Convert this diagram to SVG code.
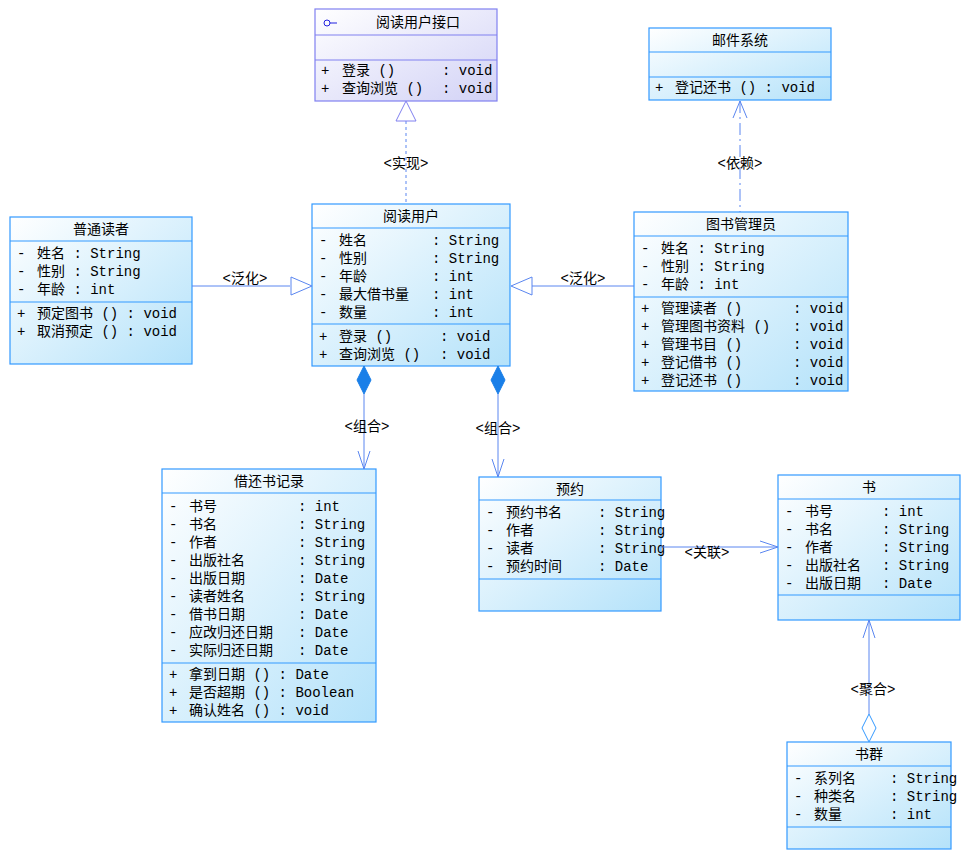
<svg xmlns="http://www.w3.org/2000/svg" width="972" height="861" viewBox="0 0 972 861">
<defs>
<linearGradient id="gb" x1="0" y1="0" x2="1" y2="1"><stop offset="0" stop-color="#ffffff"/><stop offset="1" stop-color="#b4e2fa"/></linearGradient>
<linearGradient id="gp" x1="0" y1="0" x2="1" y2="1"><stop offset="0" stop-color="#ffffff"/><stop offset="1" stop-color="#d2d2f6"/></linearGradient>
<style>
text{font-family:"Liberation Mono","Noto Sans CJK SC",monospace;font-size:14px;fill:#000}
.t{text-anchor:middle}
.box{fill:url(#gb);stroke:#3399ff;stroke-width:1.2}
.sep{stroke:#3399ff;stroke-width:1.2}
.pbox{fill:url(#gp);stroke:#8080f0;stroke-width:1.2}
.psep{stroke:#8080f0;stroke-width:1.2}
.ln{stroke:#5a86f0;stroke-width:1;fill:none}
.lbl{text-anchor:middle;font-size:14px}
</style>
</defs>
<rect width="972" height="861" fill="#fff"/>

<g id="n-interface">
<rect class="pbox" x="315" y="9" width="182" height="92"/>
<line class="psep" x1="315" y1="35" x2="497" y2="35"/>
<line class="psep" x1="315" y1="60" x2="497" y2="60"/>
<circle cx="327" cy="23" r="3" fill="none" stroke="#2020e0"/><line x1="330" y1="23" x2="337" y2="23" stroke="#2020e0"/>
<text class="t" x="418" y="27">阅读用户接口</text>
<text x="321" y="75">+</text><text x="342" y="75">登录 ()</text><text x="442" y="75">: void</text>
<text x="321" y="93">+</text><text x="342" y="93">查询浏览 ()</text><text x="442" y="93">: void</text>
</g>

<g id="n-mail">
<rect class="box" x="649" y="28" width="182" height="72"/>
<line class="sep" x1="649" y1="52" x2="831" y2="52"/>
<line class="sep" x1="649" y1="77" x2="831" y2="77"/>
<text class="t" x="740" y="45">邮件系统</text>
<text x="655" y="92">+</text><text x="675" y="92">登记还书 () : void</text>
</g>

<g id="n-reader">
<rect class="box" x="312" y="204" width="198" height="162"/>
<line class="sep" x1="312" y1="228" x2="510" y2="228"/>
<line class="sep" x1="312" y1="324" x2="510" y2="324"/>
<text class="t" x="411" y="221">阅读用户</text>
<text x="319" y="245">-</text><text x="339" y="245">姓名</text><text x="432" y="245">: String</text>
<text x="319" y="263">-</text><text x="339" y="263">性别</text><text x="432" y="263">: String</text>
<text x="319" y="281">-</text><text x="339" y="281">年龄</text><text x="432" y="281">: int</text>
<text x="319" y="299">-</text><text x="339" y="299">最大借书量</text><text x="432" y="299">: int</text>
<text x="319" y="317">-</text><text x="339" y="317">数量</text><text x="432" y="317">: int</text>
<text x="319" y="341">+</text><text x="339" y="341">登录 ()</text><text x="440" y="341">: void</text>
<text x="319" y="359">+</text><text x="339" y="359">查询浏览 ()</text><text x="440" y="359">: void</text>
</g>

<g id="n-common">
<rect class="box" x="10" y="217" width="182" height="147"/>
<line class="sep" x1="10" y1="241" x2="192" y2="241"/>
<line class="sep" x1="10" y1="302" x2="192" y2="302"/>
<text class="t" x="101" y="234">普通读者</text>
<text x="17" y="258">-</text><text x="37" y="258">姓名 : String</text>
<text x="17" y="276">-</text><text x="37" y="276">性别 : String</text>
<text x="17" y="294">-</text><text x="37" y="294">年龄 : int</text>
<text x="17" y="318">+</text><text x="37" y="318">预定图书 () : void</text>
<text x="17" y="336">+</text><text x="37" y="336">取消预定 () : void</text>
</g>

<g id="n-admin">
<rect class="box" x="634" y="212" width="214" height="179"/>
<line class="sep" x1="634" y1="236" x2="848" y2="236"/>
<line class="sep" x1="634" y1="297" x2="848" y2="297"/>
<text class="t" x="741" y="229">图书管理员</text>
<text x="641" y="253">-</text><text x="661" y="253">姓名 : String</text>
<text x="641" y="271">-</text><text x="661" y="271">性别 : String</text>
<text x="641" y="289">-</text><text x="661" y="289">年龄 : int</text>
<text x="641" y="313">+</text><text x="661" y="313">管理读者 ()</text><text x="793" y="313">: void</text>
<text x="641" y="331">+</text><text x="661" y="331">管理图书资料 ()</text><text x="793" y="331">: void</text>
<text x="641" y="349">+</text><text x="661" y="349">管理书目 ()</text><text x="793" y="349">: void</text>
<text x="641" y="367">+</text><text x="661" y="367">登记借书 ()</text><text x="793" y="367">: void</text>
<text x="641" y="385">+</text><text x="661" y="385">登记还书 ()</text><text x="793" y="385">: void</text>
</g>

<g id="n-record">
<rect class="box" x="162" y="469" width="214" height="253"/>
<line class="sep" x1="162" y1="493" x2="376" y2="493"/>
<line class="sep" x1="162" y1="663" x2="376" y2="663"/>
<text class="t" x="269" y="486">借还书记录</text>
<text x="169" y="511">-</text><text x="189" y="511">书号</text><text x="298" y="511">: int</text>
<text x="169" y="529">-</text><text x="189" y="529">书名</text><text x="298" y="529">: String</text>
<text x="169" y="547">-</text><text x="189" y="547">作者</text><text x="298" y="547">: String</text>
<text x="169" y="565">-</text><text x="189" y="565">出版社名</text><text x="298" y="565">: String</text>
<text x="169" y="583">-</text><text x="189" y="583">出版日期</text><text x="298" y="583">: Date</text>
<text x="169" y="601">-</text><text x="189" y="601">读者姓名</text><text x="298" y="601">: String</text>
<text x="169" y="619">-</text><text x="189" y="619">借书日期</text><text x="298" y="619">: Date</text>
<text x="169" y="637">-</text><text x="189" y="637">应改归还日期</text><text x="298" y="637">: Date</text>
<text x="169" y="655">-</text><text x="189" y="655">实际归还日期</text><text x="298" y="655">: Date</text>
<text x="169" y="679">+</text><text x="189" y="679">拿到日期 () : Date</text>
<text x="169" y="697">+</text><text x="189" y="697">是否超期 () : Boolean</text>
<text x="169" y="715">+</text><text x="189" y="715">确认姓名 () : void</text>
</g>

<g id="n-reserve">
<rect class="box" x="479" y="477" width="182" height="134"/>
<line class="sep" x1="479" y1="500" x2="661" y2="500"/>
<line class="sep" x1="479" y1="579" x2="661" y2="579"/>
<text class="t" x="570" y="494">预约</text>
<text x="486" y="517">-</text><text x="506" y="517">预约书名</text><text x="598" y="517">: String</text>
<text x="486" y="535">-</text><text x="506" y="535">作者</text><text x="598" y="535">: String</text>
<text x="486" y="553">-</text><text x="506" y="553">读者</text><text x="598" y="553">: String</text>
<text x="486" y="571">-</text><text x="506" y="571">预约时间</text><text x="598" y="571">: Date</text>
</g>

<g id="n-book">
<rect class="box" x="778" y="475" width="182" height="145"/>
<line class="sep" x1="778" y1="499" x2="960" y2="499"/>
<line class="sep" x1="778" y1="595" x2="960" y2="595"/>
<text class="t" x="869" y="492">书</text>
<text x="785" y="516">-</text><text x="805" y="516">书号</text><text x="882" y="516">: int</text>
<text x="785" y="534">-</text><text x="805" y="534">书名</text><text x="882" y="534">: String</text>
<text x="785" y="552">-</text><text x="805" y="552">作者</text><text x="882" y="552">: String</text>
<text x="785" y="570">-</text><text x="805" y="570">出版社名</text><text x="882" y="570">: String</text>
<text x="785" y="588">-</text><text x="805" y="588">出版日期</text><text x="882" y="588">: Date</text>
</g>

<g id="n-group">
<rect class="box" x="787" y="742" width="164" height="107"/>
<line class="sep" x1="787" y1="766" x2="951" y2="766"/>
<line class="sep" x1="787" y1="827" x2="951" y2="827"/>
<text class="t" x="869" y="759">书群</text>
<text x="794" y="783">-</text><text x="814" y="783">系列名</text><text x="890" y="783">: String</text>
<text x="794" y="801">-</text><text x="814" y="801">种类名</text><text x="890" y="801">: String</text>
<text x="794" y="819">-</text><text x="814" y="819">数量</text><text x="890" y="819">: int</text>
</g>

<g id="connectors">
<line class="ln" x1="406" y1="121" x2="406" y2="204" stroke-dasharray="3,3"/>
<polygon points="406,101 396,121 416,121" fill="#fff" stroke="#8080f0"/>
<text class="lbl" x="406" y="168">&lt;实现&gt;</text>

<line class="ln" x1="740" y1="101" x2="740" y2="212" stroke-dasharray="12,4,2,4"/>
<polyline class="ln" points="733,118 740,101 747,118"/>
<text class="lbl" x="740" y="168">&lt;依赖&gt;</text>

<line class="ln" x1="192" y1="286" x2="290" y2="286"/>
<polygon points="312,286 291,277 291,295" fill="#fff" stroke="#5a86f0"/>
<text class="lbl" x="245" y="283">&lt;泛化&gt;</text>

<line class="ln" x1="532" y1="286" x2="634" y2="286"/>
<polygon points="511,286 532,277 532,295" fill="#fff" stroke="#5a86f0"/>
<text class="lbl" x="583" y="283">&lt;泛化&gt;</text>

<polygon points="364,366 371,380 364,394 357,380" fill="#1a7fe8" stroke="#1a7fe8"/>
<line class="ln" x1="364" y1="394" x2="364" y2="469" stroke="#3399ff"/>
<polyline class="ln" points="358,451 364,469 370,451" stroke="#3399ff"/>
<text class="lbl" x="367" y="431">&lt;组合&gt;</text>

<polygon points="498,366 505,380 498,394 491,380" fill="#1a7fe8" stroke="#1a7fe8"/>
<line class="ln" x1="498" y1="394" x2="498" y2="477" stroke="#3399ff"/>
<polyline class="ln" points="492,459 498,477 504,459" stroke="#3399ff"/>
<text class="lbl" x="498" y="433">&lt;组合&gt;</text>

<line class="ln" x1="661" y1="547" x2="778" y2="547" stroke="#3399ff"/>
<polyline class="ln" points="760,541 778,547 760,553" stroke="#3399ff"/>
<text class="lbl" x="707" y="557">&lt;关联&gt;</text>

<line class="ln" x1="869" y1="620" x2="869" y2="714" stroke="#3399ff"/>
<polyline class="ln" points="863,638 869,620 875,638" stroke="#3399ff"/>
<polygon points="869,714 876,728 869,742 862,728" fill="#fff" stroke="#3399ff"/>
<text class="lbl" x="873" y="694">&lt;聚合&gt;</text>
</g>
</svg>
